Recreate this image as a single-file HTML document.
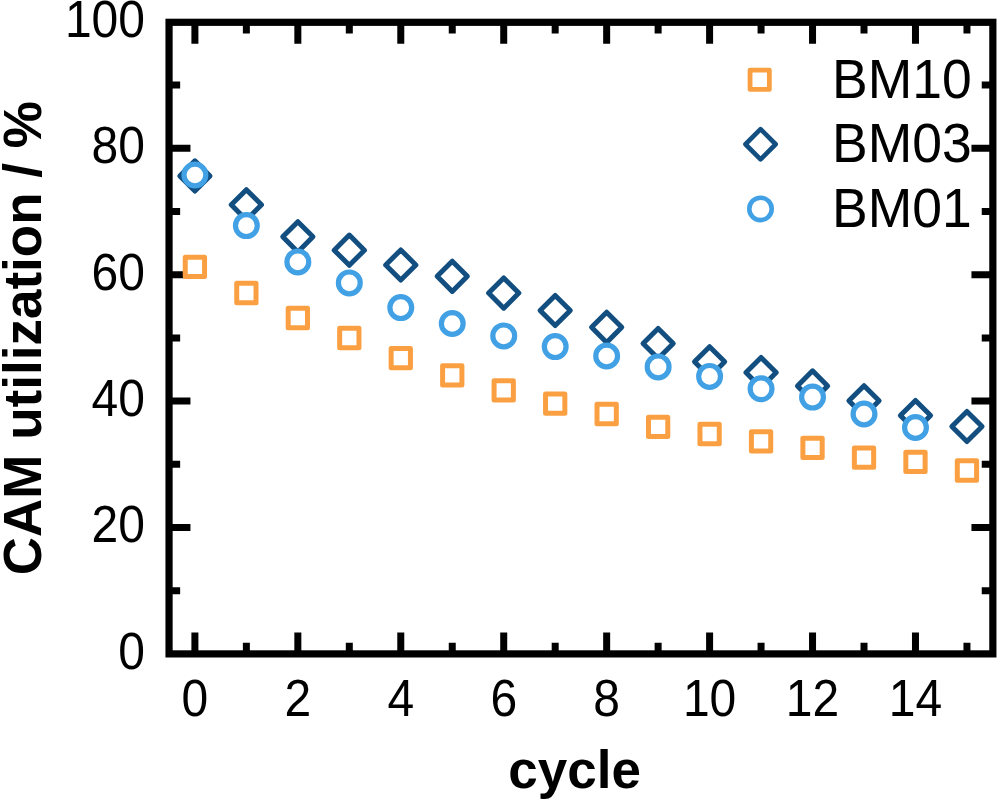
<!DOCTYPE html>
<html><head><meta charset="utf-8"><title>CAM utilization vs cycle</title>
<style>html,body{margin:0;padding:0;background:#fff;width:998px;height:801px;overflow:hidden}svg{display:block}</style>
</head><body>
<svg width="998" height="801" viewBox="0 0 998 801">
<rect width="998" height="801" fill="#fff"/>
<path d="M194.9 653.9L194.9 632.5M194.9 22.3L194.9 43.7M246.37 653.9L246.37 642.8M246.37 22.3L246.37 33.4M297.84 653.9L297.84 632.5M297.84 22.3L297.84 43.7M349.31 653.9L349.31 642.8M349.31 22.3L349.31 33.4M400.78 653.9L400.78 632.5M400.78 22.3L400.78 43.7M452.25 653.9L452.25 642.8M452.25 22.3L452.25 33.4M503.72 653.9L503.72 632.5M503.72 22.3L503.72 43.7M555.19 653.9L555.19 642.8M555.19 22.3L555.19 33.4M606.66 653.9L606.66 632.5M606.66 22.3L606.66 43.7M658.13 653.9L658.13 642.8M658.13 22.3L658.13 33.4M709.6 653.9L709.6 632.5M709.6 22.3L709.6 43.7M761.07 653.9L761.07 642.8M761.07 22.3L761.07 33.4M812.54 653.9L812.54 632.5M812.54 22.3L812.54 43.7M864.01 653.9L864.01 642.8M864.01 22.3L864.01 33.4M915.48 653.9L915.48 632.5M915.48 22.3L915.48 43.7M966.95 653.9L966.95 642.8M966.95 22.3L966.95 33.4M169.05 590.7L180.15 590.7M992.85 590.7L981.75 590.7M169.05 527.5L190.45 527.5M992.85 527.5L971.45 527.5M169.05 464.3L180.15 464.3M992.85 464.3L981.75 464.3M169.05 401.1L190.45 401.1M992.85 401.1L971.45 401.1M169.05 337.9L180.15 337.9M992.85 337.9L981.75 337.9M169.05 274.7L190.45 274.7M992.85 274.7L971.45 274.7M169.05 211.5L180.15 211.5M992.85 211.5L981.75 211.5M169.05 148.3L190.45 148.3M992.85 148.3L971.45 148.3M169.05 85.1L180.15 85.1M992.85 85.1L981.75 85.1" stroke="#000" stroke-width="7" fill="none"/>
<rect x="169.05" y="22.3" width="823.8" height="631.6" fill="none" stroke="#000" stroke-width="7.2"/>
<g font-family="Liberation Sans, Arial, sans-serif" font-size="49" fill="#000"><text transform="translate(145 651) scale(0.98 1.05)" y="16.86" text-anchor="end">0</text><text transform="translate(145 524.6) scale(0.98 1.05)" y="16.86" text-anchor="end">20</text><text transform="translate(145 398.2) scale(0.98 1.05)" y="16.86" text-anchor="end">40</text><text transform="translate(145 271.8) scale(0.98 1.05)" y="16.86" text-anchor="end">60</text><text transform="translate(145 145.4) scale(0.98 1.05)" y="16.86" text-anchor="end">80</text><text transform="translate(145 19) scale(0.98 1.05)" y="16.86" text-anchor="end">100</text><text transform="translate(194.9 698.2) scale(0.98 1.05)" y="16.86" text-anchor="middle">0</text><text transform="translate(297.84 698.2) scale(0.98 1.05)" y="16.86" text-anchor="middle">2</text><text transform="translate(400.78 698.2) scale(0.98 1.05)" y="16.86" text-anchor="middle">4</text><text transform="translate(503.72 698.2) scale(0.98 1.05)" y="16.86" text-anchor="middle">6</text><text transform="translate(606.66 698.2) scale(0.98 1.05)" y="16.86" text-anchor="middle">8</text><text transform="translate(709.6 698.2) scale(0.98 1.05)" y="16.86" text-anchor="middle">10</text><text transform="translate(812.54 698.2) scale(0.98 1.05)" y="16.86" text-anchor="middle">12</text><text transform="translate(915.48 698.2) scale(0.98 1.05)" y="16.86" text-anchor="middle">14</text></g>
<text x="508.3" y="787.5" font-family="Liberation Sans, Arial, sans-serif" font-weight="bold" font-size="53">cycle</text>
<text transform="translate(41 575.2) rotate(-90)" font-family="Liberation Sans, Arial, sans-serif" font-weight="bold" font-size="53">CAM utilization / %</text>
<rect x="185.25" y="257.15" width="19.3" height="19.3" fill="#fff" stroke="#FBA042" stroke-width="5" stroke-linejoin="round"/>
<rect x="236.72" y="283.35" width="19.3" height="19.3" fill="#fff" stroke="#FBA042" stroke-width="5" stroke-linejoin="round"/>
<rect x="288.19" y="308.35" width="19.3" height="19.3" fill="#fff" stroke="#FBA042" stroke-width="5" stroke-linejoin="round"/>
<rect x="339.66" y="328.35" width="19.3" height="19.3" fill="#fff" stroke="#FBA042" stroke-width="5" stroke-linejoin="round"/>
<rect x="391.13" y="348.55" width="19.3" height="19.3" fill="#fff" stroke="#FBA042" stroke-width="5" stroke-linejoin="round"/>
<rect x="442.6" y="365.75" width="19.3" height="19.3" fill="#fff" stroke="#FBA042" stroke-width="5" stroke-linejoin="round"/>
<rect x="494.07" y="380.65" width="19.3" height="19.3" fill="#fff" stroke="#FBA042" stroke-width="5" stroke-linejoin="round"/>
<rect x="545.54" y="393.95" width="19.3" height="19.3" fill="#fff" stroke="#FBA042" stroke-width="5" stroke-linejoin="round"/>
<rect x="597.01" y="404.35" width="19.3" height="19.3" fill="#fff" stroke="#FBA042" stroke-width="5" stroke-linejoin="round"/>
<rect x="648.48" y="417.15" width="19.3" height="19.3" fill="#fff" stroke="#FBA042" stroke-width="5" stroke-linejoin="round"/>
<rect x="699.95" y="424.35" width="19.3" height="19.3" fill="#fff" stroke="#FBA042" stroke-width="5" stroke-linejoin="round"/>
<rect x="751.42" y="431.65" width="19.3" height="19.3" fill="#fff" stroke="#FBA042" stroke-width="5" stroke-linejoin="round"/>
<rect x="802.89" y="438.15" width="19.3" height="19.3" fill="#fff" stroke="#FBA042" stroke-width="5" stroke-linejoin="round"/>
<rect x="854.36" y="447.95" width="19.3" height="19.3" fill="#fff" stroke="#FBA042" stroke-width="5" stroke-linejoin="round"/>
<rect x="905.83" y="452.25" width="19.3" height="19.3" fill="#fff" stroke="#FBA042" stroke-width="5" stroke-linejoin="round"/>
<rect x="957.3" y="460.85" width="19.3" height="19.3" fill="#fff" stroke="#FBA042" stroke-width="5" stroke-linejoin="round"/>
<path d="M194.9 160.8L210 175.9L194.9 191L179.8 175.9Z" fill="#fff" stroke="#124F80" stroke-width="5" stroke-linejoin="round"/>
<path d="M246.37 189.7L261.47 204.8L246.37 219.9L231.27 204.8Z" fill="#fff" stroke="#124F80" stroke-width="5" stroke-linejoin="round"/>
<path d="M297.84 221.7L312.94 236.8L297.84 251.9L282.74 236.8Z" fill="#fff" stroke="#124F80" stroke-width="5" stroke-linejoin="round"/>
<path d="M349.31 235.1L364.41 250.2L349.31 265.3L334.21 250.2Z" fill="#fff" stroke="#124F80" stroke-width="5" stroke-linejoin="round"/>
<path d="M400.78 249.9L415.88 265L400.78 280.1L385.68 265Z" fill="#fff" stroke="#124F80" stroke-width="5" stroke-linejoin="round"/>
<path d="M452.25 261.2L467.35 276.3L452.25 291.4L437.15 276.3Z" fill="#fff" stroke="#124F80" stroke-width="5" stroke-linejoin="round"/>
<path d="M503.72 278L518.82 293.1L503.72 308.2L488.62 293.1Z" fill="#fff" stroke="#124F80" stroke-width="5" stroke-linejoin="round"/>
<path d="M555.19 295.4L570.29 310.5L555.19 325.6L540.09 310.5Z" fill="#fff" stroke="#124F80" stroke-width="5" stroke-linejoin="round"/>
<path d="M606.66 312.2L621.76 327.3L606.66 342.4L591.56 327.3Z" fill="#fff" stroke="#124F80" stroke-width="5" stroke-linejoin="round"/>
<path d="M658.13 328.4L673.23 343.5L658.13 358.6L643.03 343.5Z" fill="#fff" stroke="#124F80" stroke-width="5" stroke-linejoin="round"/>
<path d="M709.6 346.7L724.7 361.8L709.6 376.9L694.5 361.8Z" fill="#fff" stroke="#124F80" stroke-width="5" stroke-linejoin="round"/>
<path d="M761.07 357.5L776.17 372.6L761.07 387.7L745.97 372.6Z" fill="#fff" stroke="#124F80" stroke-width="5" stroke-linejoin="round"/>
<path d="M812.54 370.8L827.64 385.9L812.54 401L797.44 385.9Z" fill="#fff" stroke="#124F80" stroke-width="5" stroke-linejoin="round"/>
<path d="M864.01 385.7L879.11 400.8L864.01 415.9L848.91 400.8Z" fill="#fff" stroke="#124F80" stroke-width="5" stroke-linejoin="round"/>
<path d="M915.48 400.4L930.58 415.5L915.48 430.6L900.38 415.5Z" fill="#fff" stroke="#124F80" stroke-width="5" stroke-linejoin="round"/>
<path d="M966.95 411.4L982.05 426.5L966.95 441.6L951.85 426.5Z" fill="#fff" stroke="#124F80" stroke-width="5" stroke-linejoin="round"/>
<circle cx="194.9" cy="175" r="10.9" fill="#fff" stroke="#41A1E4" stroke-width="5.2"/>
<circle cx="246.37" cy="225.6" r="10.9" fill="#fff" stroke="#41A1E4" stroke-width="5.2"/>
<circle cx="297.84" cy="261.9" r="10.9" fill="#fff" stroke="#41A1E4" stroke-width="5.2"/>
<circle cx="349.31" cy="282.9" r="10.9" fill="#fff" stroke="#41A1E4" stroke-width="5.2"/>
<circle cx="400.78" cy="307.6" r="10.9" fill="#fff" stroke="#41A1E4" stroke-width="5.2"/>
<circle cx="452.25" cy="323.5" r="10.9" fill="#fff" stroke="#41A1E4" stroke-width="5.2"/>
<circle cx="503.72" cy="335.9" r="10.9" fill="#fff" stroke="#41A1E4" stroke-width="5.2"/>
<circle cx="555.19" cy="346.6" r="10.9" fill="#fff" stroke="#41A1E4" stroke-width="5.2"/>
<circle cx="606.66" cy="356" r="10.9" fill="#fff" stroke="#41A1E4" stroke-width="5.2"/>
<circle cx="658.13" cy="366.9" r="10.9" fill="#fff" stroke="#41A1E4" stroke-width="5.2"/>
<circle cx="709.6" cy="376.4" r="10.9" fill="#fff" stroke="#41A1E4" stroke-width="5.2"/>
<circle cx="761.07" cy="388.8" r="10.9" fill="#fff" stroke="#41A1E4" stroke-width="5.2"/>
<circle cx="812.54" cy="397.1" r="10.9" fill="#fff" stroke="#41A1E4" stroke-width="5.2"/>
<circle cx="864.01" cy="414" r="10.9" fill="#fff" stroke="#41A1E4" stroke-width="5.2"/>
<circle cx="915.48" cy="427.5" r="10.9" fill="#fff" stroke="#41A1E4" stroke-width="5.2"/>
<rect x="750.05" y="70.15" width="19.3" height="19.3" fill="#fff" stroke="#FBA042" stroke-width="4.8" stroke-linejoin="round"/>
<path d="M760.55 129.15L775.65 144.25L760.55 159.35L745.45 144.25Z" fill="#fff" stroke="#124F80" stroke-width="4.6" stroke-linejoin="round"/>
<circle cx="760.5" cy="208.9" r="11.2" fill="#fff" stroke="#41A1E4" stroke-width="4.6"/>
<g font-family="Liberation Sans, Arial, sans-serif" font-size="53.5" fill="#000"><text transform="translate(832.1 97.5) scale(1 1.027)">BM10</text><text transform="translate(832.1 162) scale(1 1.027)">BM03</text><text transform="translate(832.1 226.5) scale(1 1.027)">BM01</text></g>
</svg>
</body></html>
